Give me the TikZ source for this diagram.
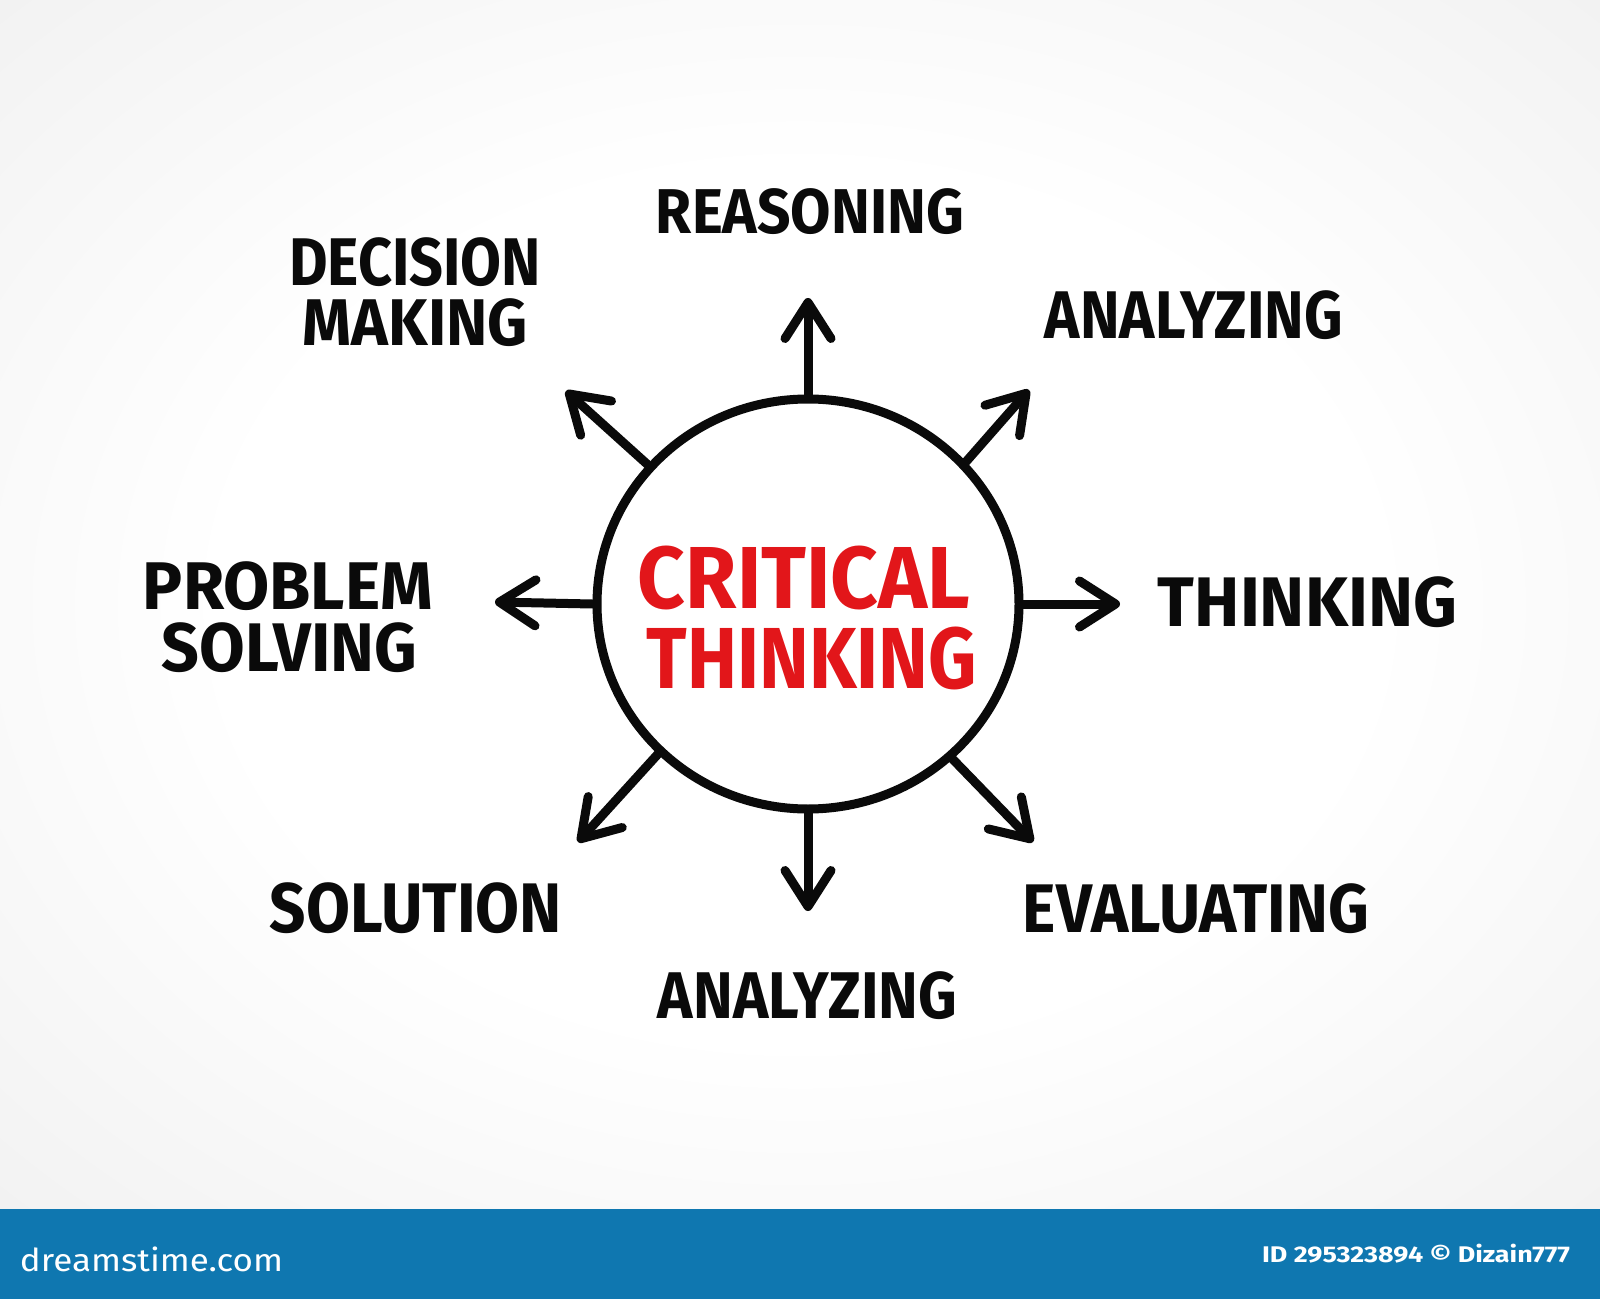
\documentclass[tikz,border=0pt]{standalone}
\usepackage{fontspec}
\setmainfont{Fira Sans}
\usepackage{graphicx}
\usetikzlibrary{arrows.meta,shapes.geometric}
\definecolor{bgout}{RGB}{231,231,231}
\definecolor{ctred}{RGB}{226,22,26}
\definecolor{barblue}{RGB}{15,119,176}
\definecolor{ink}{RGB}{10,10,10}
\pgfdeclareradialshading{bgshade}{\pgfpoint{0bp}{0bp}}{color(0bp)=(white); color(18bp)=(white); color(50bp)=(bgout)}
\newcommand\fitbox[3]{\resizebox*{#1pt}{#2pt}{#3}}
\begin{document}
\begin{tikzpicture}[x=0.5pt,y=-0.5pt,
  lbl/.style={inner sep=0pt, outer sep=0pt, font=\bfseries, text=ink},
  redlbl/.style={inner sep=0pt, outer sep=0pt, font=\bfseries, text=ctred},
  barlbl/.style={inner sep=0pt, outer sep=0pt, text=white},
  ray/.style={draw=ink, line width=4.5pt, line cap=round, -{Straight Barb[length=18pt,width=23pt,round]}}]
\useasboundingbox (0,0) rectangle (1600,1299);
\shade[shading=bgshade] (0,0) rectangle (1600,1209);
\fill[barblue] (0,1209) rectangle (1600,1299);

% central circle
\node[draw=ink, ellipse, line width=4.5pt, minimum width=211pt, minimum height=205pt, fill=white, inner sep=0pt] (c) at (808,604) {};
\node[redlbl] (t1) at (804,578) {\fitbox{166}{32}{CRITICAL}};
\node[redlbl] (t2) at (812,658) {\fitbox{165}{31.5}{THINKING}};

% arrow tips
\coordinate (pN)  at (808,298);
\coordinate (pNE) at (1029,390);
\coordinate (pE)  at (1120,604);
\coordinate (pSE) at (1033,842);
\coordinate (pS)  at (808,911);
\coordinate (pSW) at (578,842);
\coordinate (pW)  at (495,602);
\coordinate (pNW) at (566,391);

\draw[ray] (c.north) -- (pN);
\draw[ray] (c.42) -- (pNE);
\draw[ray] (c.east) -- (pE);
\draw[ray] (c.-47) -- (pSE);
\draw[ray] (c.south) -- (pS);
\draw[ray] (c.-135) -- (pSW);
\draw[ray] (c.west) -- (pW);
\draw[ray] (c.139) -- (pNW);

% labels
\node[lbl] (reas) at (810,212) {\fitbox{154}{23}{REASONING}};
\node[lbl] (dec1) at (415,262) {\fitbox{126}{24.5}{DECISION}};
\node[lbl] (dec2) at (415.5,322.5) {\fitbox{112.5}{24}{MAKING}};
\node[lbl] (ana1) at (1194,315.5) {\fitbox{149}{24.5}{ANALYZING}};
\node[lbl] (thk) at (1307.5,602.5) {\fitbox{149.5}{25.5}{THINKING}};
\node[lbl] (eval) at (1196,909) {\fitbox{173}{25}{EVALUATING}};
\node[lbl] (ana2) at (807.5,996) {\fitbox{149.5}{24}{ANALYZING}};
\node[lbl] (sol) at (416,908.5) {\fitbox{146}{25.5}{SOLUTION}};
\node[lbl] (prb1) at (288,586) {\fitbox{145}{24.5}{PROBLEM}};
\node[lbl] (prb2) at (289.5,647.5) {\fitbox{127.5}{25}{SOLVING}};

% bottom bar
\node[barlbl] (dt) at (151.5,1259.5) {\fitbox{131.5}{12.5}{dreamstime.com}};
\node[barlbl, font=\bfseries] (id) at (1416,1253.5) {\fitbox{154}{9.5}{ID 295323894 © Dizain777}};
\end{tikzpicture}
\end{document}
